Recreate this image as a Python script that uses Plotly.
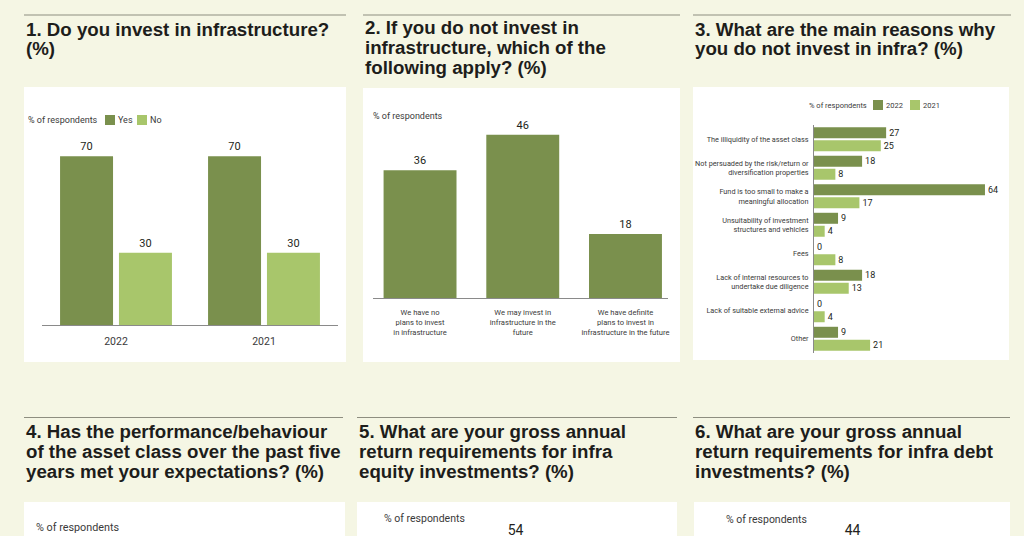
import plotly.graph_objects as go

W, H = 1024, 536


def X(px):
    return px / W


def Y(py):
    return 1 - py / H


BG = "#f5f6e4"
DARK = "#7a904d"
LIGHT = "#a8c66b"
TEXT = "#231f20"
LABEL = "#3a3a3a"
RULE = "#8e8e80"
AXIS = "#8a8a8a"

TITLE_FAMILY = "Liberation Sans, Arial, sans-serif"
NARROW = "Roboto, Liberation Sans, sans-serif"

# ---------------- data ----------------
q1_years = ["2022", "2021"]
q1_series = ["Yes", "No"]
q1_yes = [70, 70]
q1_no = [30, 30]

q2_answers = [
    "We have no plans to invest in infrastructure",
    "We may invest in infrastructure in the future",
    "We have definite plans to invest in infrastructure in the future",
]
q2_ticktext = [
    "We have no<br>plans to invest<br>in infrastructure",
    "We may invest in<br>infrastructure in the<br>future",
    "We have definite<br>plans to invest in<br>infrastructure in the future",
]
q2_values = [36, 46, 18]

q3_reasons = [
    "The illiquidity of the asset class",
    "Not persuaded by the risk/return or<br>diversification properties",
    "Fund is too small to make a<br>meaningful allocation",
    "Unsuitability of investment<br>structures and vehicles",
    "Fees",
    "Lack of internal resources to<br>undertake due diligence",
    "Lack of suitable external advice",
    "Other",
]
q3_series = ["2022", "2021"]
q3_2022 = [27, 18, 64, 9, 0, 18, 0, 9]
q3_2021 = [25, 8, 17, 4, 8, 13, 4, 21]

# charts 5 and 6 are cut off by the bottom edge: only the value label of
# the tallest bar is visible (the bars themselves lie below the edge)
q5_values = [54]
q6_values = [44]

titles = [
    (24, [(30, "1. Do you invest in infrastructure?"), (49, "(%)")]),
    (363, [(27, "2. If you do not invest in"), (47, "infrastructure, which of the"),
           (67, "following apply? (%)")]),
    (693, [(30, "3. What are the main reasons why"), (48, "you do not invest in infra? (%)")]),
    (24, [(431, "4. Has the performance/behaviour"), (451, "of the asset class over the past five"),
          (471, "years met your expectations? (%)")]),
    (357, [(431, "5. What are your gross annual"), (451, "return requirements for infra"),
           (471, "equity investments? (%)")]),
    (693, [(431, "6. What are your gross annual"), (451, "return requirements for infra debt"),
           (471, "investments? (%)")]),
]

fig = go.Figure()

# ---------------- chart 1 ----------------
for vals, name, col, off in [(q1_yes, q1_series[0], DARK, -0.378), (q1_no, q1_series[1], LIGHT, 0.020)]:
    fig.add_trace(go.Bar(
        x=q1_years, y=vals, name=name, marker=dict(color=col, line=dict(width=0)),
        width=0.358, offset=off, text=vals, textposition="outside", cliponaxis=False,
        constraintext="none", textfont=dict(family=NARROW, size=11, color=TEXT),
        xaxis="x", yaxis="y", showlegend=False,
    ))

# ---------------- chart 2 ----------------
fig.add_trace(go.Bar(
    x=q2_answers, y=q2_values, marker=dict(color=DARK, line=dict(width=0)),
    width=0.71, text=q2_values, textposition="outside", cliponaxis=False,
    constraintext="none", textfont=dict(family=NARROW, size=11, color=TEXT),
    xaxis="x2", yaxis="y2", showlegend=False,
))

# ---------------- chart 3 ----------------
for vals, name, col, off in [(q3_2022, q3_series[0], DARK, -0.42), (q3_2021, q3_series[1], LIGHT, 0.035)]:
    fig.add_trace(go.Bar(
        y=q3_reasons, x=vals, name=name, orientation="h",
        marker=dict(color=col, line=dict(width=0)),
        width=0.386, offset=off, text=vals, textposition="outside", cliponaxis=False,
        constraintext="none", textfont=dict(family=NARROW, size=9, color=TEXT),
        xaxis="x3", yaxis="y3", showlegend=False,
    ))

# ---------------- charts 5 and 6 (cut off: value labels only) ----------------
for vals, xa, ya in [(q5_values, "x4", "y4"), (q6_values, "x5", "y5")]:
    fig.add_trace(go.Scatter(
        x=[0], y=vals, mode="text", text=vals, textposition="middle center",
        textfont=dict(family=NARROW, size=14, color=TEXT), cliponaxis=False,
        xaxis=xa, yaxis=ya, showlegend=False,
    ))

shapes = []
# white panels
for x0, x1, y0, y1 in [(24, 346, 87, 362), (363, 680, 88, 362), (693, 1009, 87, 360),
                       (24, 345, 502, 560), (357, 677, 502, 560), (694, 1010, 502, 560)]:
    shapes.append(dict(type="rect", xref="paper", yref="paper", x0=X(x0), x1=X(x1),
                       y0=Y(y1), y1=Y(y0), fillcolor="white", line=dict(width=0), layer="below"))
# rules above titles
for x0, x1, py in [(24, 346, 15), (363, 680, 15), (693, 1011, 15),
                   (24, 343, 417.5), (357, 677, 417.5), (693, 1010, 417.5)]:
    shapes.append(dict(type="line", xref="paper", yref="paper", x0=X(x0), x1=X(x1),
                       y0=Y(py), y1=Y(py), line=dict(color=RULE, width=1.2), layer="below"))
# legend swatches
for x0, py, col in [(105, 120, DARK), (137, 120, LIGHT), (873, 105, DARK), (910, 105, LIGHT)]:
    shapes.append(dict(type="rect", xref="paper", yref="paper", x0=X(x0), x1=X(x0 + 10),
                       y0=Y(py + 5), y1=Y(py - 5), fillcolor=col, line=dict(width=0)))

ann = []
for x0, lines in titles:
    for py, t in lines:
        ann.append(dict(x=X(x0), y=Y(py), xref="paper", yref="paper", text=t, showarrow=False,
                        xanchor="left", yanchor="middle",
                        font=dict(family=TITLE_FAMILY, size=18.7, color="#1d1d1b", weight="bold")))


def small(px, py, t, size, anchor="left"):
    ann.append(dict(x=X(px), y=Y(py), xref="paper", yref="paper", text=t, showarrow=False,
                    xanchor=anchor, yanchor="middle", font=dict(family=NARROW, size=size, color=LABEL)))


small(100, 120, "% of respondents", 9, "right")
small(115.5, 120, q1_series[0], 9)
small(147.5, 120, q1_series[1], 9)
small(371, 116, "% of respondents", 9)
small(869, 105, "% of respondents", 7.5, "right")
small(883.5, 105, q3_series[0], 7.5)
small(920.5, 105, q3_series[1], 7.5)
small(34, 527, "% of respondents", 10.8)
small(382, 518, "% of respondents", 10.5)
small(724, 519, "% of respondents", 10.5)

hidden = dict(visible=False, showgrid=False, zeroline=False, fixedrange=True)

# bottom charts: 3 px per percentage point, value label centred 5 px above the edge
PXU = 3.0

fig.update_layout(
    width=W, height=H, margin=dict(l=0, r=0, t=0, b=0),
    paper_bgcolor=BG, plot_bgcolor="rgba(0,0,0,0)",
    barmode="overlay", showlegend=False,
    shapes=shapes, annotations=ann,
    xaxis=dict(domain=[X(42), X(338)], anchor="y", type="category", showline=True,
               linecolor=AXIS, linewidth=1, ticks="", showgrid=False, zeroline=False,
               tickfont=dict(family=NARROW, size=10.5, color=LABEL), ticklabelstandoff=6),
    yaxis=dict(domain=[Y(325), Y(325 - 80 * 2.41)], anchor="x", range=[0, 80], **hidden),
    xaxis2=dict(domain=[X(373), X(668)], anchor="y2", type="category", range=[-0.458, 2.414],
                showline=True, linecolor=AXIS, linewidth=1, ticks="", showgrid=False,
                zeroline=False, tickmode="array", tickvals=q2_answers, ticktext=q2_ticktext,
                tickfont=dict(family=NARROW, size=7.6, color=LABEL), ticklabelstandoff=7),
    yaxis2=dict(domain=[Y(298), Y(298 - 50 * 3.55)], anchor="x2", range=[0, 50], **hidden),
    xaxis3=dict(domain=[X(814), X(1001)], anchor="y3", range=[0, 70], **hidden),
    yaxis3=dict(domain=[Y(353), Y(125)], anchor="x3", type="category", range=[7.5, -0.5],
                showline=True, linecolor=AXIS, linewidth=1, ticks="", showgrid=False,
                zeroline=False, tickfont=dict(family=NARROW, size=7.3, color=LABEL),
                ticklabelstandoff=3),
    xaxis4=dict(domain=[X(455.5), X(575.5)], anchor="y4", range=[-0.5, 0.5], **hidden),
    yaxis4=dict(domain=[0, Y(502)], anchor="x4",
                range=[q5_values[0] - 5 / PXU, q5_values[0] - 5 / PXU + 34 / PXU], **hidden),
    xaxis5=dict(domain=[X(792.5), X(912.5)], anchor="y5", range=[-0.5, 0.5], **hidden),
    yaxis5=dict(domain=[0, Y(502)], anchor="x5",
                range=[q6_values[0] - 5 / PXU, q6_values[0] - 5 / PXU + 34 / PXU], **hidden),
)

fig.write_html(
    "out.html",
    config={"displayModeBar": False},
    post_script="document.body.style.margin='0';document.body.style.overflow='hidden';"
                "document.body.style.background='" + BG + "';",
)
